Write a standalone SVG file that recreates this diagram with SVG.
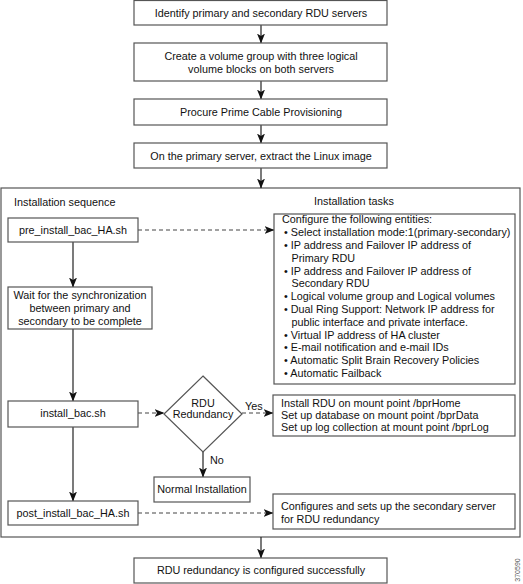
<svg xmlns="http://www.w3.org/2000/svg" width="523" height="584" viewBox="0 0 523 584">
<defs>
<style>
.box{fill:#fff;stroke:#555;stroke-width:1.2}
.cont{fill:none;stroke:#555;stroke-width:1.2}
.t{font-family:"Liberation Sans",Arial,sans-serif;font-size:10.8px;fill:#111}
.c{text-anchor:middle}
.ln{fill:none;stroke:#222;stroke-width:1.2}
.dl{fill:none;stroke:#444;stroke-width:1.1;stroke-dasharray:4,3}
</style>
<marker id="ah" viewBox="0 0 10 8" refX="9.5" refY="4" markerWidth="10" markerHeight="8" markerUnits="userSpaceOnUse" orient="auto">
<path d="M0,0 L10,4 L0,8 L2.5,4 z" fill="#111"/>
</marker>
</defs>
<rect class="cont" x="1" y="188" width="519" height="349"/>
<g id="connectors">
<line class="ln" x1="261" y1="25" x2="261" y2="43" marker-end="url(#ah)"/>
<line class="ln" x1="261" y1="81" x2="261" y2="99" marker-end="url(#ah)"/>
<line class="ln" x1="261" y1="125" x2="261" y2="143" marker-end="url(#ah)"/>
<line class="ln" x1="261" y1="168" x2="261" y2="188" marker-end="url(#ah)"/>
<line class="ln" x1="73" y1="242" x2="73" y2="287" marker-end="url(#ah)"/>
<line class="ln" x1="73" y1="329" x2="73" y2="401" marker-end="url(#ah)"/>
<line class="ln" x1="73" y1="427" x2="73" y2="501" marker-end="url(#ah)"/>
<line class="ln" x1="203" y1="452" x2="203" y2="477" marker-end="url(#ah)"/>
<line class="ln" x1="261" y1="537" x2="261" y2="558" marker-end="url(#ah)"/>
<line class="dl" x1="138" y1="230" x2="274" y2="230" marker-end="url(#ah)"/>
<line class="dl" x1="138" y1="413" x2="164" y2="413" marker-end="url(#ah)"/>
<line class="dl" x1="242" y1="413" x2="273" y2="413" marker-end="url(#ah)"/>
<line class="dl" x1="138" y1="513" x2="273" y2="513" marker-end="url(#ah)"/>
<text class="t" x="245" y="410">Yes</text>
<text class="t" x="210" y="464">No</text>
</g>
<g id="n1"><rect class="box" x="134" y="0.5" width="253" height="24.5"/><text class="t c" x="261" y="17">Identify primary and secondary RDU servers</text></g>
<g id="n2"><rect class="box" x="134" y="43" width="253" height="38"/><text class="t c" x="261" y="60">Create a volume group with three logical</text><text class="t c" x="261" y="73">volume blocks on both servers</text></g>
<g id="n3"><rect class="box" x="134" y="99" width="253" height="26"/><text class="t c" x="261" y="116">Procure Prime Cable Provisioning</text></g>
<g id="n4"><rect class="box" x="134" y="143" width="253" height="25"/><text class="t c" x="261" y="159.5">On the primary server, extract the Linux image</text></g>
<g id="lbl-seq"><text class="t" x="14" y="206">Installation sequence</text></g>
<g id="lbl-tasks"><text class="t" x="314" y="205">Installation tasks</text></g>
<g id="pre"><rect class="box" x="8" y="218" width="130" height="24"/><text class="t c" x="73" y="234">pre_install_bac_HA.sh</text></g>
<g id="wait"><rect class="box" x="8" y="287" width="144" height="42"/><text class="t c" x="80" y="299">Wait for the synchronization</text><text class="t c" x="80" y="312">between primary and</text><text class="t c" x="80" y="325">secondary to be complete</text></g>
<g id="install"><rect class="box" x="8" y="401" width="130" height="26"/><text class="t c" x="73" y="417">install_bac.sh</text></g>
<g id="post"><rect class="box" x="8" y="501" width="130" height="24"/><text class="t c" x="73" y="517">post_install_bac_HA.sh</text></g>
<g id="diamond"><polygon class="box" points="203,376 242,414 203,452 164,414"/><text class="t c" x="203" y="407">RDU</text><text class="t c" x="203" y="418">Redundancy</text></g>
<g id="normal"><rect class="box" x="154" y="477" width="96" height="25"/><text class="t c" x="202" y="493">Normal Installation</text></g>
<g id="tasks"><rect class="box" x="274" y="214" width="241" height="170"/>
<text class="t" x="282" y="223.4">Configure the following entities:</text>
<text class="t" x="284" y="236.2">• Select installation mode:1(primary-secondary)</text>
<text class="t" x="284" y="249">• IP address and Failover IP address of</text>
<text class="t" x="291.5" y="261.8">Primary RDU</text>
<text class="t" x="284" y="274.6">• IP address and Failover IP address of</text>
<text class="t" x="291.5" y="287.4">Secondary RDU</text>
<text class="t" x="284" y="300.2">• Logical volume group and Logical volumes</text>
<text class="t" x="284" y="313">• Dual Ring Support: Network IP address for</text>
<text class="t" x="291.5" y="325.8">public interface and private interface.</text>
<text class="t" x="284" y="338.6">• Virtual IP address of HA cluster</text>
<text class="t" x="284" y="351.4">• E-mail notification and e-mail IDs</text>
<text class="t" x="284" y="364.2">• Automatic Split Brain Recovery Policies</text>
<text class="t" x="284" y="377">• Automatic Failback</text>
</g>
<g id="rdu"><rect class="box" x="273" y="395" width="242" height="41"/>
<text class="t" x="281" y="407">Install RDU on mount point /bprHome</text>
<text class="t" x="281" y="419">Set up database on mount point /bprData</text>
<text class="t" x="281" y="431">Set up log collection at mount point /bprLog</text>
</g>
<g id="configures"><rect class="box" x="273" y="494" width="242" height="35"/>
<text class="t" x="281" y="510">Configures and sets up the secondary server</text>
<text class="t" x="281" y="523">for RDU redundancy</text>
</g>
<g id="final"><rect class="box" x="134" y="558" width="253" height="25"/><text class="t c" x="261" y="574">RDU redundancy is configured successfully</text></g>
<text x="520" y="570" transform="rotate(-90 520 570)" text-anchor="middle" font-family="Liberation Sans, Arial, sans-serif" font-size="7" fill="#555">370590</text>
</svg>
